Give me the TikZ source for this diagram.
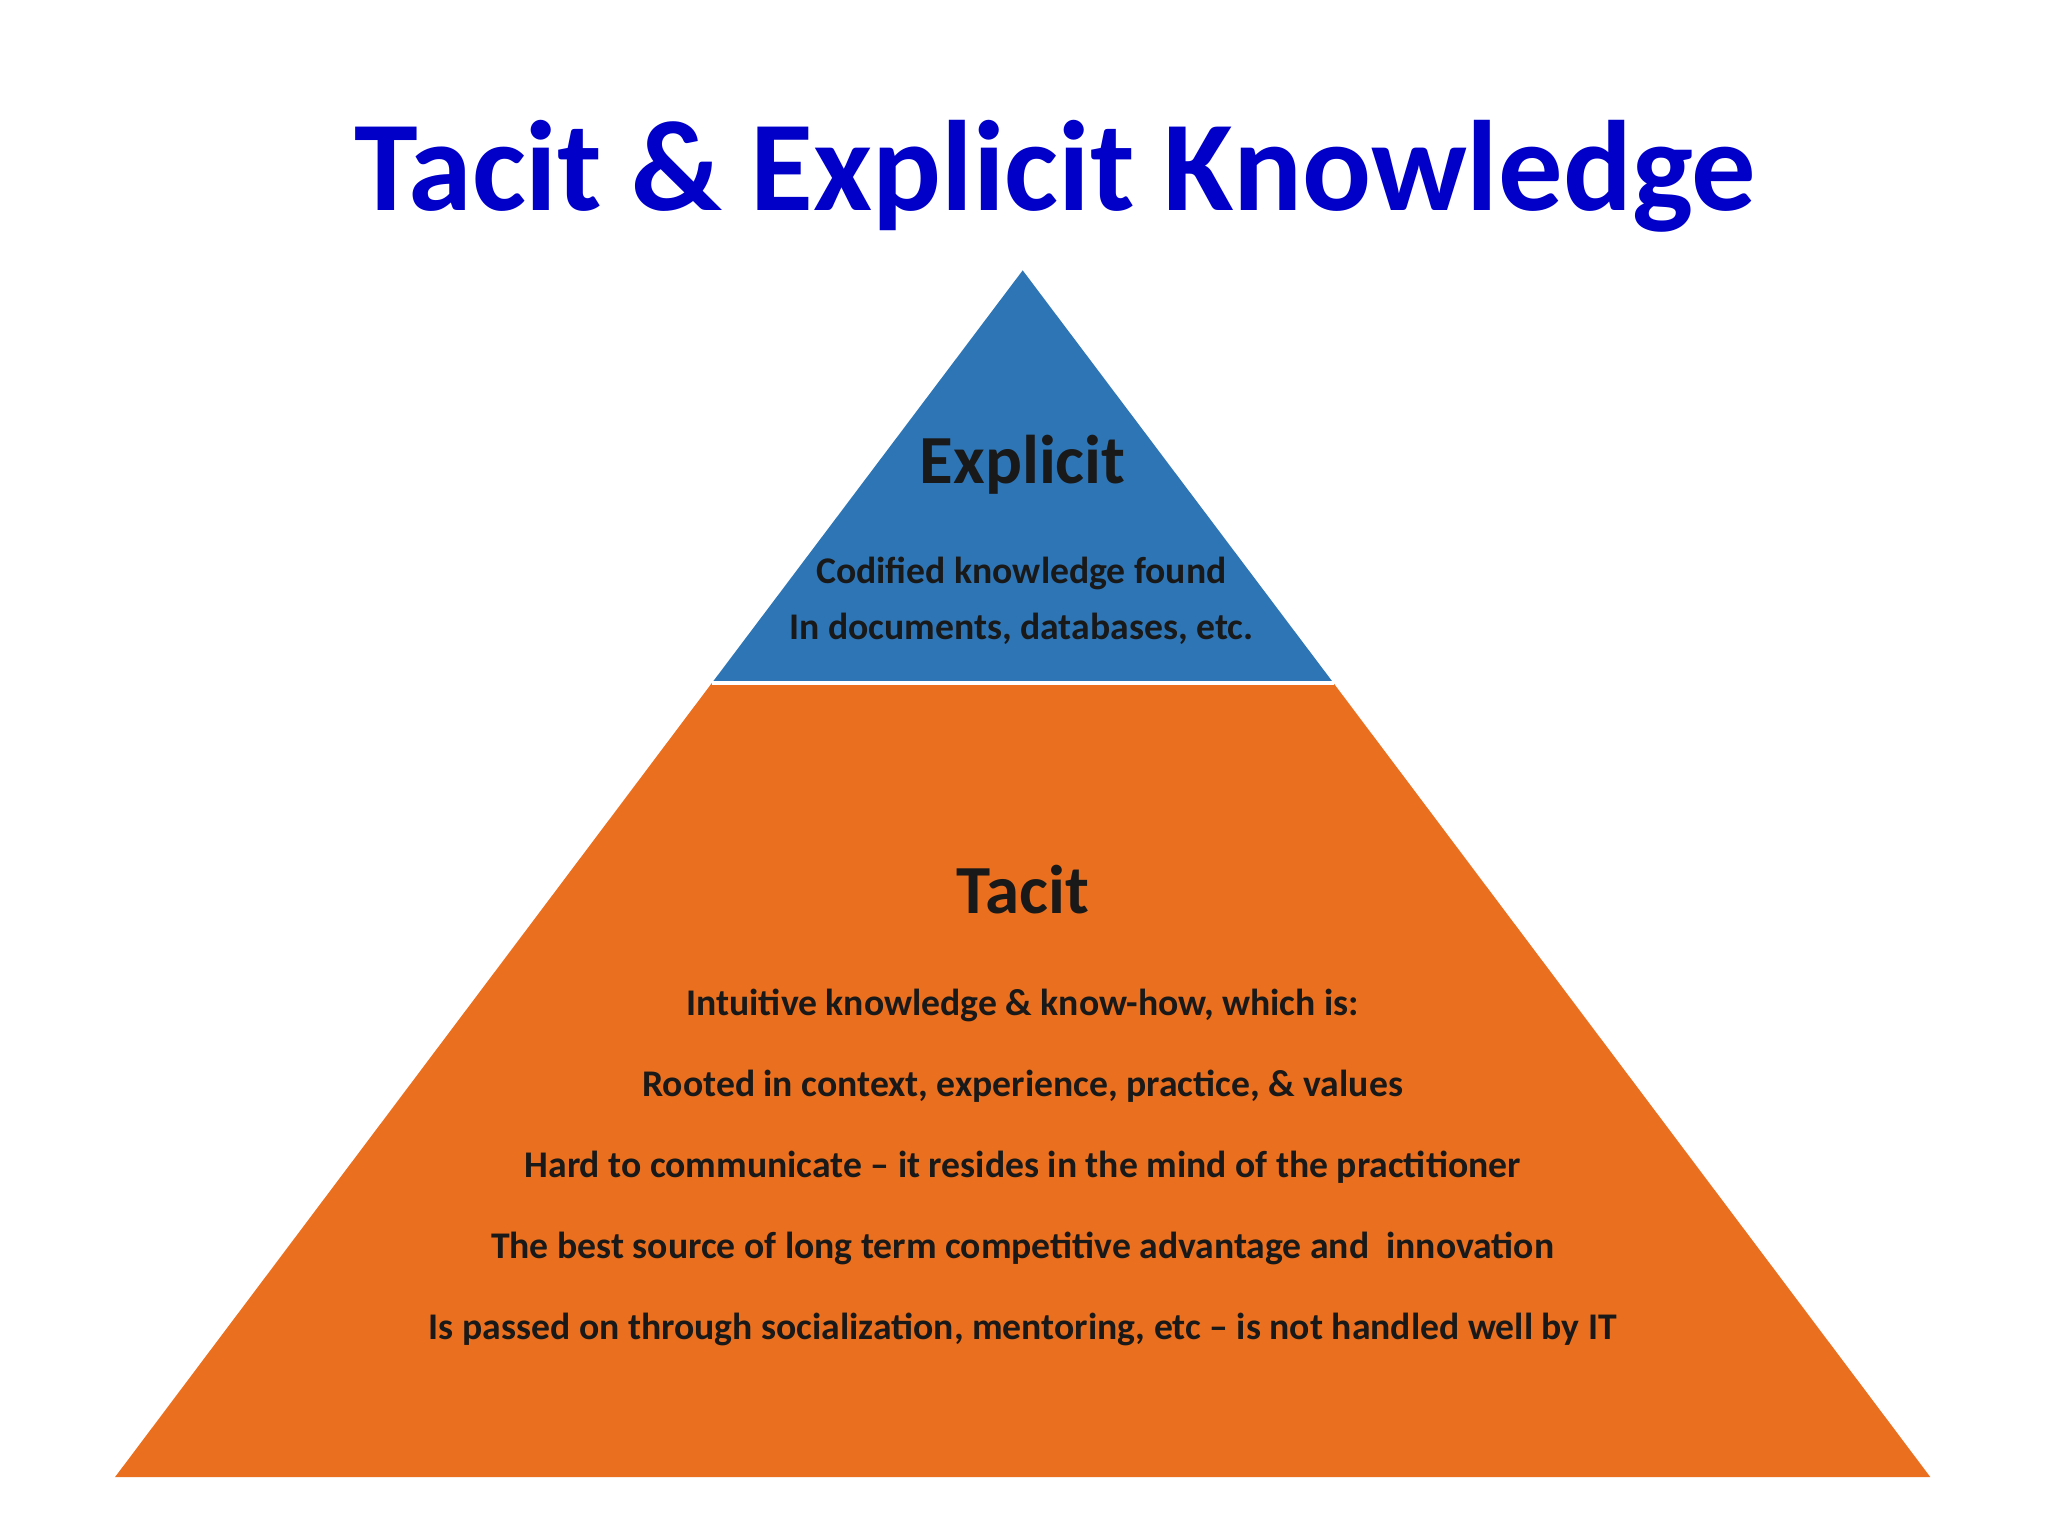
\documentclass[tikz,border=0pt]{standalone}
\usepackage{fontspec}
\setmainfont{Carlito}
\definecolor{expl}{HTML}{2E75B6}
\definecolor{tac}{HTML}{EA6F1E}
\definecolor{ttl}{HTML}{0000C8}
\begin{document}
\begin{tikzpicture}[x=0.01cm,y=-0.01cm,
  body/.style={font=\bfseries\fontsize{8.2pt}{9pt}\selectfont, text=black!90, inner sep=0pt},
  head/.style={font=\bfseries\fontsize{15pt}{17pt}\selectfont, text=black!90, inner sep=0pt}]
\useasboundingbox (0,0) rectangle (1568,1176);
\fill[tac] (545,523) -- (1021,523) -- (1478,1131) -- (88,1131) -- cycle;
\fill[expl] (783,207) -- (1021,523) -- (545,523) -- cycle;
\draw[white, line width=0.8pt] (545,523) -- (1021,523);
\node[font=\bfseries\fontsize{28pt}{32pt}\selectfont, text=ttl] (title) at (808,135) {Tacit \& Explicit Knowledge};
\node[head] (ex) at (783,356) {Explicit};
\node[body, align=center] (exb) at (782,460) {Codified knowledge found\\[3pt]In documents, databases, etc.};
\node[head] (ta) at (783,681) {Tacit};
\node[body] (t1) at (783,770) {Intuitive knowledge \& know-how, which is:};
\node[body] (t2) at (783,832) {Rooted in context, experience, practice, \& values};
\node[body] (t3) at (783,894) {Hard to communicate -- it resides in the mind of the practitioner};
\node[body] (t4) at (783,956) {The best source of long term competitive advantage and\ \ innovation};
\node[body] (t5) at (783,1018) {Is passed on through socialization, mentoring, etc -- is not handled well by IT};
\end{tikzpicture}
\end{document}
